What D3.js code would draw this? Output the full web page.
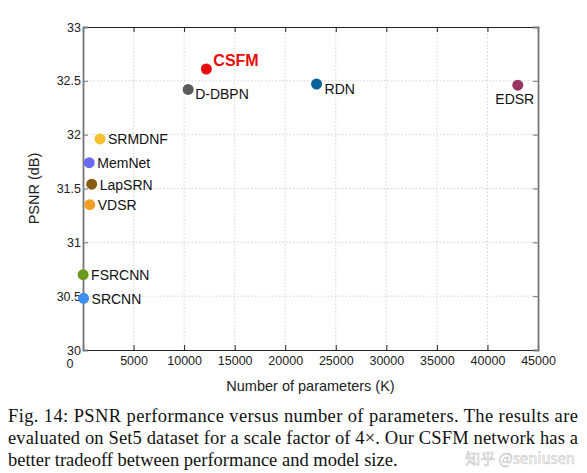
<!DOCTYPE html>
<html><head><meta charset="utf-8">
<script src="https://cdn.jsdelivr.net/npm/d3@7"></script>
<style>body{margin:0;background:#fff}svg{display:block}</style>
</head><body>
<script>
const models = ["SRCNN","FSRCNN","VDSR","LapSRN","MemNet","SRMDNF","D-DBPN","CSFM","RDN","EDSR"];
const params = [57, 12, 665, 860, 620, 1680, 10400, 12200, 23100, 43000];
const psnr = [30.48, 30.70, 31.35, 31.54, 31.74, 31.96, 32.42, 32.61, 32.47, 32.46];
const colors = ["#3d8ff0","#6b9a1c","#f2a024","#8a5c12","#6a6af0","#f7c12e","#5a5a5a","#e80c0c","#0c6099","#983462"];
const xTicks = [0,5000,10000,15000,20000,25000,30000,35000,40000,45000];
const yTicks = [30,30.5,31,31.5,32,32.5,33];
const caption = ["Fig. 14: PSNR performance versus number of parameters. The results are",
 "evaluated on Set5 dataset for a scale factor of 4\u00d7. Our CSFM network has a",
 "better tradeoff between performance and model size."];

const W=587,H=473;
const svg=d3.select("body").append("svg").attr("width",W).attr("height",H);
const L=83,R=538,T=27,B=350;
const x=d3.scaleLinear().domain([0,45000]).range([L,R]);
const y=d3.scaleLinear().domain([30,33]).range([B,T]);
const font="Liberation Sans, Arial, sans-serif";

// grid
const g=svg.append("g");
g.selectAll(".gx").data(xTicks.slice(1,-1)).enter().append("line")
 .attr("x1",d=>x(d)).attr("x2",d=>x(d)).attr("y1",T).attr("y2",B)
 .attr("stroke","#c8c8c8").attr("stroke-width",0.8).attr("stroke-dasharray","1.5,2");
g.selectAll(".gy").data(yTicks.slice(1,-1)).enter().append("line")
 .attr("y1",d=>y(d)).attr("y2",d=>y(d)).attr("x1",L).attr("x2",R)
 .attr("stroke","#c8c8c8").attr("stroke-width",0.8).attr("stroke-dasharray","1.5,2");

// axes
const xa=d3.axisBottom(x).tickValues(xTicks).tickSize(-5).tickFormat(d=>d===0?"":d3.format("d")(d));
const xAxis=svg.append("g").attr("transform",`translate(0,${B})`).call(xa);
xAxis.select(".domain").attr("stroke","#222").attr("stroke-width",1.2);
xAxis.selectAll(".tick line").attr("stroke","#222");
xAxis.selectAll("text").attr("font-family",font).attr("font-size",12.5).attr("fill","#222").attr("dy","0.95em");
svg.append("text").attr("x",70).attr("y",B+18).attr("text-anchor","middle").attr("font-family",font).attr("font-size",12.5).attr("fill","#222").text("0");

const xt=d3.axisTop(x).tickValues(xTicks).tickSize(-5).tickFormat("");
const xTop=svg.append("g").attr("transform",`translate(0,${T})`).call(xt);
xTop.select(".domain").attr("stroke","#222").attr("stroke-width",1.2);
xTop.selectAll(".tick line").attr("stroke","#222");

const ya=d3.axisLeft(y).tickValues(yTicks).tickSize(-5).tickFormat(d=>d3.format("")(d));
const yAxis=svg.append("g").attr("transform",`translate(${L},0)`).call(ya);
yAxis.select(".domain").attr("stroke","#777").attr("stroke-width",1.8);
yAxis.selectAll(".tick line").attr("stroke","#777");
yAxis.selectAll("text").attr("font-family",font).attr("font-size",12.5).attr("fill","#222").attr("x",-2);

const yr=d3.axisRight(y).tickValues(yTicks).tickSize(-5).tickFormat("");
const yR=svg.append("g").attr("transform",`translate(${R},0)`).call(yr);
yR.select(".domain").attr("stroke","#777").attr("stroke-width",1.8);
yR.selectAll(".tick line").attr("stroke","#777");

// axis labels
svg.append("text").attr("x",(L+R)/2).attr("y",391).attr("text-anchor","middle")
 .attr("font-family",font).attr("font-size",14.5).attr("fill","#222").text("Number of parameters (K)");
svg.append("text").attr("transform",`translate(39,${(T+B)/2}) rotate(-90)`).attr("text-anchor","middle")
 .attr("font-family",font).attr("font-size",14.5).attr("fill","#222").text("PSNR (dB)");

// points
const data=models.map((m,i)=>({m,p:params[i],v:psnr[i],c:colors[i]}));
svg.selectAll("circle.pt").data(data).enter().append("circle")
 .attr("cx",d=>x(d.p)).attr("cy",d=>y(d.v)).attr("r",5.5).attr("fill",d=>d.c);

// labels
const labOff={"CSFM":[7,-3],"EDSR":[-3,19],"RDN":[8,10],"D-DBPN":[7,10]};
svg.selectAll("text.lab").data(data).enter().append("text")
 .attr("x",d=>x(d.p)+(labOff[d.m]?labOff[d.m][0]:8))
 .attr("y",d=>y(d.v)+(labOff[d.m]?labOff[d.m][1]:5.5))
 .attr("text-anchor",d=>d.m==="EDSR"?"middle":"start")
 .attr("font-family",font)
 .attr("font-size",d=>d.m==="CSFM"?16:14)
 .attr("font-weight",d=>d.m==="CSFM"?"bold":"normal")
 .attr("fill",d=>d.m==="CSFM"?"#e80c0c":"#111")
 .text(d=>d.m);

// caption
const cy=[422,444,466];
caption.forEach((t,i)=>{
 const tx=svg.append("text").attr("x",8).attr("y",cy[i]).attr("font-family","Liberation Serif, Times New Roman, serif")
  .attr("font-size",18.5).attr("fill","#111").text(t);
 if(i<2) tx.attr("textLength",570).attr("lengthAdjust","spacing");
});
// watermark
svg.append("text").attr("x",575).attr("y",464).attr("text-anchor","end")
 .attr("font-family","Noto Sans CJK SC, sans-serif").attr("font-size",15).attr("fill","#ffffff")
 .attr("fill-opacity",0.75).attr("stroke","#999").attr("stroke-width",0.6).attr("stroke-opacity",0.6)
 .text("知乎 @seniusen");
</script>
</body></html>
